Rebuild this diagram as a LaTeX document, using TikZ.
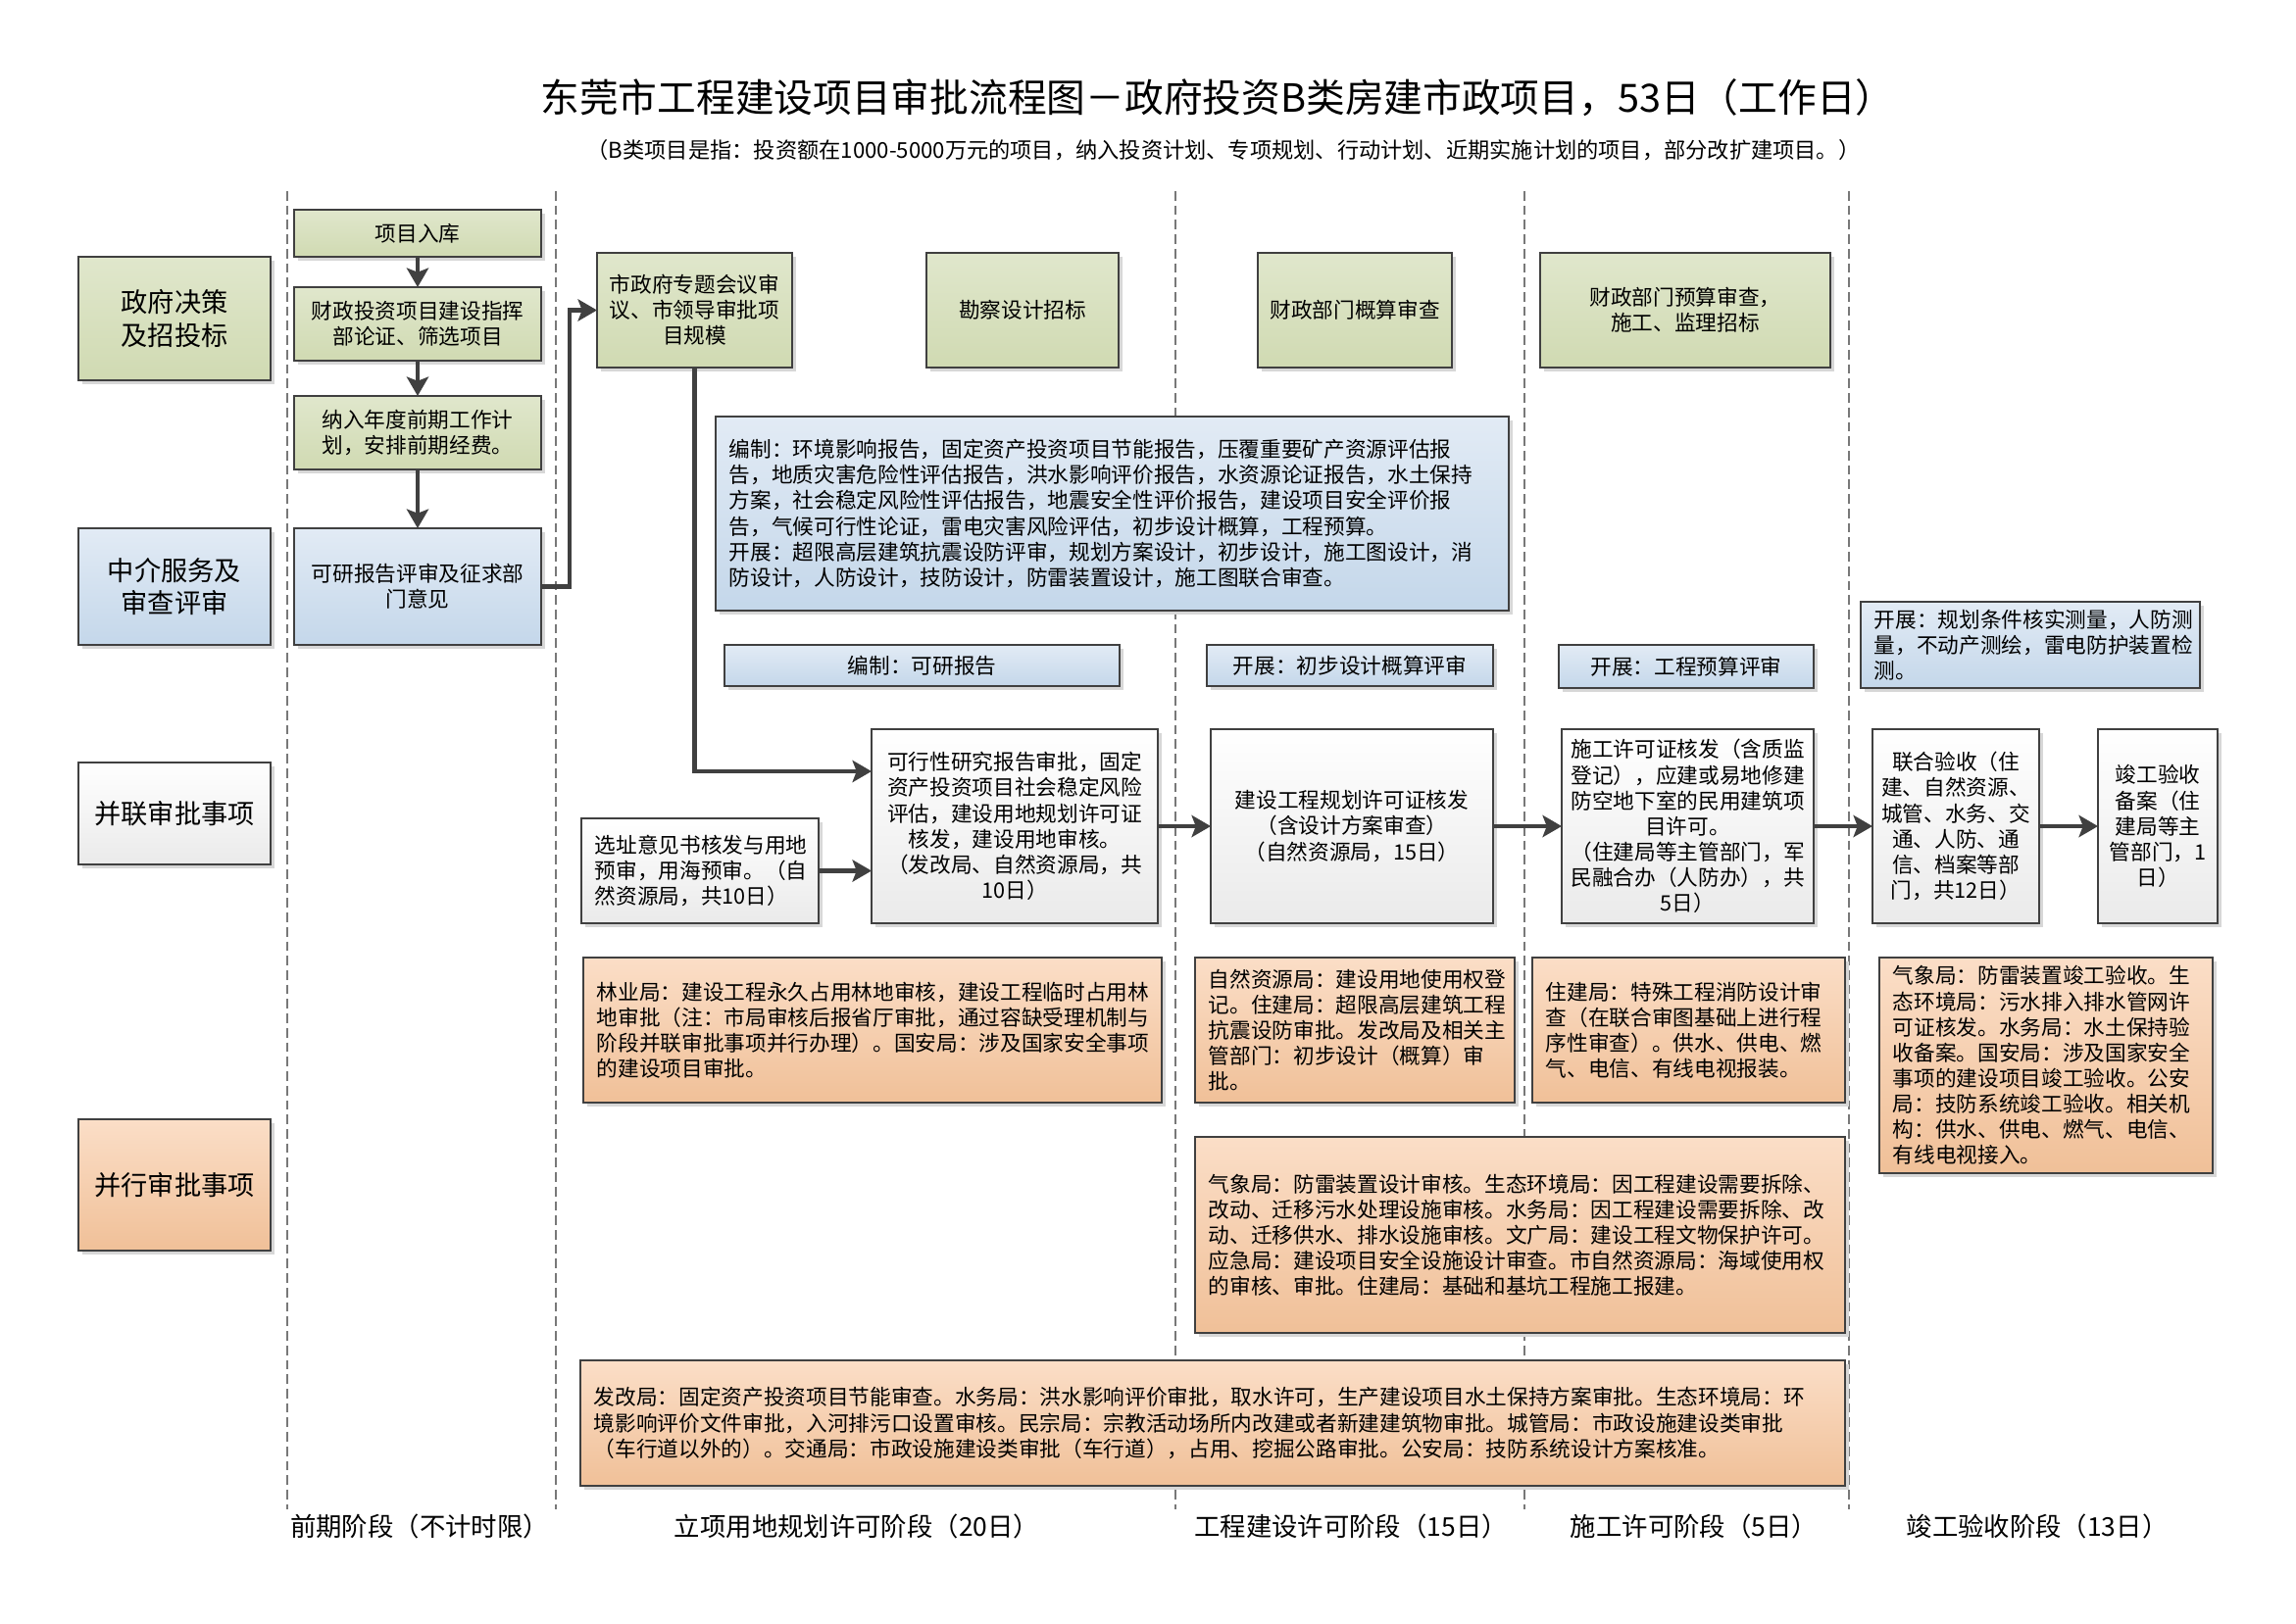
\documentclass[tikz,border=0pt]{standalone}
\usepackage{fontspec}
\setmainfont{Noto Sans CJK SC}
\usetikzlibrary{arrows.meta,shadows}

\definecolor{lncol}{RGB}{64,64,64}
\definecolor{dashcol}{RGB}{120,120,120}
\definecolor{shcol}{RGB}{215,215,215}
\definecolor{gtop}{RGB}{224,231,204}
\definecolor{gbot}{RGB}{208,218,178}
\definecolor{btop}{RGB}{226,235,245}
\definecolor{bbot}{RGB}{196,215,234}
\definecolor{otop}{RGB}{251,222,199}
\definecolor{obot}{RGB}{240,192,152}
\definecolor{wbot}{RGB}{234,234,234}

\begin{document}
\begin{tikzpicture}[x=0.36pt,y=-0.36pt,
  sz/.style 2 args={minimum width=#1*0.36pt,minimum height=#2*0.36pt},
  tw/.style={text width=#1*0.36pt-10pt}]
\tikzstyle{box}=[draw=lncol,line width=0.6pt,inner sep=2pt,outer sep=0pt,
  drop shadow={shadow xshift=1.3pt,shadow yshift=-1.3pt,fill=shcol,opacity=1},
  font=\fontsize{7.8}{9.4}\selectfont]
\tikzstyle{gbox}=[box,top color=gtop,bottom color=gbot,align=center]
\tikzstyle{bbox}=[box,top color=btop,bottom color=bbot,align=center]
\tikzstyle{wbox}=[box,top color=white,bottom color=wbot,align=center]
\tikzstyle{obox}=[box,top color=otop,bottom color=obot,align=left]
\tikzstyle{lane}=[font=\fontsize{9.8}{12.2}\selectfont]
\tikzstyle{arr}=[draw=lncol,line width=1.5pt,-{Stealth[length=7pt,width=8pt,inset=1.5pt]}]
\tikzstyle{phase}=[draw=dashcol,line width=0.5pt,dash pattern=on 3.5pt off 1.8pt]
\tikzstyle{stage}=[font=\fontsize{9.5}{11}\selectfont]

\useasboundingbox (0,0) rectangle (2342,1657);

\foreach \xx in {293,567,1199,1555,1886}
  \draw[phase] (\xx,195) -- (\xx,1540);

\node (title) at (1242,100) {\fontsize{14.3}{16}\selectfont 东莞市工程建设项目审批流程图－政府投资B类房建市政项目，53日（工作日）};
\node (note) at (1248,153) {\fontsize{8}{9}\selectfont （B类项目是指：投资额在1000-5000万元的项目，纳入投资计划、专项规划、行动计划、近期实施计划的项目，部分改扩建项目。）};

\node[gbox,lane,sz={196}{126}] (gov) at (178,325) {政府决策\\及招投标};
\node[bbox,lane,sz={196}{119}] (agency) at (178,598.5) {中介服务及\\审查评审};
\node[wbox,lane,sz={196}{104}] (joint) at (178,830) {并联审批事项};
\node[obox,lane,align=center,sz={196}{134}] (para) at (178,1209) {并行审批事项};

\node[gbox,sz={252}{48}] (rk) at (426,238) {项目入库};
\node[gbox,sz={252}{75}] (lz) at (426,330.5) {财政投资项目建设指挥\\部论证、筛选项目};
\node[gbox,sz={252}{75}] (nr) at (426,441.5) {纳入年度前期工作计\\划，安排前期经费。};
\node[bbox,sz={252}{119}] (kyps) at (426,598.5) {可研报告评审及征求部\\门意见};

\node[gbox,sz={199}{117}] (szf) at (708.5,316.5) {市政府专题会议审\\议、市领导审批项\\目规模};
\node[gbox,sz={196}{117}] (kc) at (1043,316.5) {勘察设计招标};
\node[gbox,sz={198}{117}] (gs) at (1382,316.5) {财政部门概算审查};
\node[gbox,sz={296}{117}] (ys) at (1719,316.5) {财政部门预算审查，\\施工、监理招标};

\node[bbox,align=left,tw=809,sz={809}{198}] (bz) at (1134.5,524) {编制：环境影响报告，固定资产投资项目节能报告，压覆重要矿产资源评估报\\告，地质灾害危险性评估报告，洪水影响评价报告，水资源论证报告，水土保持\\方案，社会稳定风险性评估报告，地震安全性评价报告，建设项目安全评价报\\告，气候可行性论证，雷电灾害风险评估，初步设计概算，工程预算。\\开展：超限高层建筑抗震设防评审，规划方案设计，初步设计，施工图设计，消\\防设计，人防设计，技防设计，防雷装置设计，施工图联合审查。};
\node[bbox,sz={403}{42}] (kybz) at (940.5,679) {编制：可研报告};
\node[bbox,sz={292}{42}] (cbps) at (1377,679) {开展：初步设计概算评审};
\node[bbox,sz={260}{44}] (ysps) at (1720,680) {开展：工程预算评审};
\node[bbox,align=left,tw=346,sz={346}{88}] (chjc) at (2071,658) {开展：规划条件核实测量，人防测\\量，不动产测绘，雷电防护装置检\\测。};

\node[wbox,align=left,tw=242,sz={242}{107}] (xz) at (714,888.5) {选址意见书核发与用地\\预审，用海预审。（自\\然资源局，共10日）};
\node[wbox,sz={292}{198}] (kx) at (1035,843) {可行性研究报告审批，固定\\资产投资项目社会稳定风险\\评估，建设用地规划许可证\\核发，建设用地审核。\\（发改局、自然资源局，共\\10日）};
\node[wbox,sz={288}{198}] (gh) at (1379,843) {建设工程规划许可证核发\\（含设计方案审查）\\（自然资源局，15日）};
\node[wbox,sz={257}{198}] (sg) at (1721.5,843) {施工许可证核发（含质监\\登记），应建或易地修建\\防空地下室的民用建筑项\\目许可。\\（住建局等主管部门，军\\民融合办（人防办），共\\5日）};
\node[wbox,sz={170}{198}] (lh) at (1995,843) {联合验收（住\\建、自然资源、\\城管、水务、交\\通、人防、通\\信、档案等部\\门，共12日）};
\node[wbox,sz={122}{198}] (ba) at (2201,843) {竣工验收\\备案（住\\建局等主\\管部门，1\\日）};

\node[obox,tw=590,sz={590}{148}] (ly) at (890,1051) {林业局：建设工程永久占用林地审核，建设工程临时占用林\\地审批（注：市局审核后报省厅审批，通过容缺受理机制与\\阶段并联审批事项并行办理）。国安局：涉及国家安全事项\\的建设项目审批。};
\node[obox,tw=326,sz={326}{148}] (zr) at (1382,1051) {自然资源局：建设用地使用权登\\记。住建局：超限高层建筑工程\\抗震设防审批。发改局及相关主\\管部门：初步设计（概算）审\\批。};
\node[obox,tw=319,sz={319}{148}] (zj) at (1722.5,1051) {住建局：特殊工程消防设计审\\查（在联合审图基础上进行程\\序性审查）。供水、供电、燃\\气、电信、有线电视报装。};
\node[obox,tw=340,sz={340}{220}] (jg) at (2087,1087) {气象局：防雷装置竣工验收。生\\态环境局：污水排入排水管网许\\可证核发。水务局：水土保持验\\收备案。国安局：涉及国家安全\\事项的建设项目竣工验收。公安\\局：技防系统竣工验收。相关机\\构：供水、供电、燃气、电信、\\有线电视接入。};
\node[obox,tw=663,sz={663}{200}] (sj) at (1550.5,1260) {气象局：防雷装置设计审核。生态环境局：因工程建设需要拆除、\\改动、迁移污水处理设施审核。水务局：因工程建设需要拆除、改\\动、迁移供水、排水设施审核。文广局：建设工程文物保护许可。\\应急局：建设项目安全设施设计审查。市自然资源局：海域使用权\\的审核、审批。住建局：基础和基坑工程施工报建。};
\node[obox,tw=1290,sz={1290}{128}] (fg) at (1237,1452) {发改局：固定资产投资项目节能审查。水务局：洪水影响评价审批，取水许可，生产建设项目水土保持方案审批。生态环境局：环\\境影响评价文件审批，入河排污口设置审核。民宗局：宗教活动场所内改建或者新建建筑物审批。城管局：市政设施建设类审批\\（车行道以外的）。交通局：市政设施建设类审批（车行道），占用、挖掘公路审批。公安局：技防系统设计方案核准。};

\node[stage] (s1) at (428,1557) {前期阶段（不计时限）};
\node[stage] (s2) at (874,1557) {立项用地规划许可阶段（20日）};
\node[stage] (s3) at (1378,1557) {工程建设许可阶段（15日）};
\node[stage] (s4) at (1728,1557) {施工许可阶段（5日）};
\node[stage] (s5) at (2078,1557) {竣工验收阶段（13日）};

\coordinate (j1) at (581,0);
\coordinate (j2) at (0,787);
\draw[arr] (rk) -- (lz);
\draw[arr] (lz) -- (nr);
\draw[arr] (nr) -- (kyps);
\draw[arr] (kyps.east) -- (kyps.east -| j1) |- (szf.west);
\draw[arr] (szf.south) |- (kx.west |- j2);
\draw[arr] (xz.east) -- (xz.east -| kx.west);
\draw[arr] (kx) -- (gh);
\draw[arr] (gh) -- (sg);
\draw[arr] (sg) -- (lh);
\draw[arr] (lh) -- (ba);
\end{tikzpicture}
\end{document}
